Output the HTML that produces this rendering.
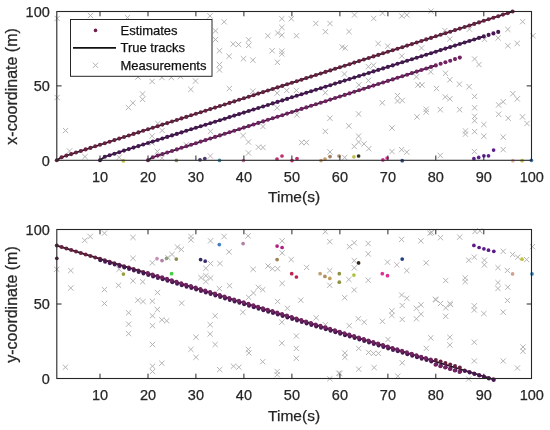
<!DOCTYPE html>
<html><head><meta charset="utf-8"><style>
html,body{margin:0;padding:0;background:#fff;width:550px;height:430px;overflow:hidden}
svg{display:block}
text{font-family:"Liberation Sans",Arial,Helvetica,sans-serif;fill:#262626;stroke:#262626;stroke-width:0.25px}
.tk{font-size:14.5px}
.lb{font-size:15.5px}
.yl{font-size:16px}
.lg{font-size:13px;fill:#111;stroke:#111}
</style></head><body>
<svg width="550" height="430" viewBox="0 0 550 430">
<rect width="550" height="430" fill="#fff"/>
<path stroke="#b0b0b0" stroke-width="0.95" fill="none" d="M54.5 15.8L59.8 21.1M54.5 21.1L59.8 15.8M87.8 12.9L93.2 18.2M87.8 18.2L93.2 12.9M124.8 15.0L130.2 20.2M124.8 20.2L130.2 15.0M54.5 94.8L59.8 100.2M54.5 100.2L59.8 94.8M62.9 127.9L68.2 133.2M62.9 133.2L68.2 127.9M125.8 104.9L131.1 110.2M125.8 110.2L131.1 104.9M130.2 100.3L135.5 105.7M130.2 105.7L135.5 100.3M139.9 91.3L145.2 96.7M139.9 96.7L145.2 91.3M139.9 96.6L145.2 102.0M139.9 102.0L145.2 96.6M82.3 154.0L87.7 159.3M82.3 159.3L87.7 154.0M116.4 154.7L121.8 160.0M116.4 160.0L121.8 154.7M66.8 148.3L72.2 153.7M66.8 153.7L72.2 148.3M135.3 74.3L140.7 79.7M135.3 79.7L140.7 74.3M149.5 78.8L154.8 84.1M149.5 84.1L154.8 78.8M159.3 74.8L164.7 80.2M159.3 80.2L164.7 74.8M168.7 74.8L174.0 80.2M168.7 80.2L174.0 74.8M177.7 73.8L183.0 79.2M177.7 79.2L183.0 73.8M192.9 78.3L198.2 83.7M192.9 83.7L198.2 78.3M188.2 86.8L193.5 92.1M188.2 92.1L193.5 86.8M226.7 85.9L232.0 91.2M226.7 91.2L232.0 85.9M207.3 13.2L212.7 18.6M207.3 18.6L212.7 13.2M221.5 19.2L226.8 24.5M221.5 24.5L226.8 19.2M212.8 28.2L218.2 33.5M212.8 33.5L218.2 28.2M212.8 37.0L218.2 42.2M212.8 42.2L218.2 37.0M230.5 41.4L235.8 46.6M230.5 46.6L235.8 41.4M235.9 41.9L241.2 47.1M235.9 47.1L241.2 41.9M246.0 37.2L251.3 42.5M246.0 42.5L251.3 37.2M246.0 42.8L251.3 48.0M246.0 48.0L251.3 42.8M216.8 48.1L222.2 53.4M216.8 53.4L222.2 48.1M226.4 53.6L231.8 58.9M226.4 58.9L231.8 53.6M216.8 61.9L222.2 67.2M216.8 67.2L222.2 61.9M216.8 67.2L222.2 72.6M216.8 72.6L222.2 67.2M240.8 56.1L246.2 61.4M240.8 61.4L246.2 56.1M250.2 57.5L255.5 62.8M250.2 62.8L255.5 57.5M265.2 33.1L270.5 38.4M265.2 38.4L270.5 33.1M275.1 30.4L280.3 35.6M275.1 35.6L280.3 30.4M279.2 16.1L284.5 21.3M279.2 21.3L284.5 16.1M279.2 24.8L284.5 30.0M279.2 30.0L284.5 24.8M279.2 32.5L284.5 37.8M279.2 37.8L284.5 32.5M288.7 16.1L293.9 21.3M288.7 21.3L293.9 16.1M293.9 33.1L299.1 38.4M293.9 38.4L299.1 33.1M269.5 48.1L274.8 53.4M269.5 53.4L274.8 48.1M279.2 48.6L284.5 53.9M279.2 53.9L284.5 48.6M279.2 51.4L284.5 56.6M279.2 56.6L284.5 51.4M274.8 59.6L280.0 65.0M274.8 65.0L280.0 59.6M313.2 20.9L318.4 26.1M313.2 26.1L318.4 20.9M327.4 20.9L332.6 26.1M327.4 26.1L332.6 20.9M322.8 29.1L328.0 34.4M322.8 34.4L328.0 29.1M339.6 44.4L344.8 49.6M339.6 49.6L344.8 44.4M342.5 45.4L347.8 50.6M342.5 50.6L347.8 45.4M351.9 12.3L357.1 17.6M351.9 17.6L357.1 12.3M371.1 15.8L376.3 21.1M371.1 21.1L376.3 15.8M379.9 10.4L385.1 15.8M379.9 15.8L385.1 10.4M399.2 13.3L404.4 18.6M399.2 18.6L404.4 13.3M404.2 12.3L409.5 17.6M404.2 17.6L409.5 12.3M346.4 29.0L351.6 34.2M346.4 34.2L351.6 29.0M375.5 41.0L380.8 46.2M375.5 46.2L380.8 41.0M385.1 43.5L390.3 48.8M385.1 48.8L390.3 43.5M399.2 53.4L404.4 58.6M399.2 58.6L404.4 53.4M428.4 8.5L433.6 13.8M428.4 13.8L433.6 8.5M442.2 27.9L447.4 33.1M442.2 33.1L447.4 27.9M447.2 36.4L452.5 41.6M447.2 41.6L452.5 36.4M466.9 26.5L472.1 31.8M466.9 31.8L472.1 26.5M418.9 45.4L424.1 50.6M418.9 50.6L424.1 45.4M481.9 36.6L487.1 41.9M481.9 41.9L487.1 36.6M472.0 56.4L477.2 61.6M472.0 61.6L477.2 56.4M476.4 61.9L481.6 67.2M476.4 67.2L481.6 61.9M365.8 64.0L371.0 69.4M365.8 69.4L371.0 64.0M370.9 62.6L376.1 68.0M370.9 68.0L376.1 62.6M341.8 71.3L347.0 76.7M341.8 76.7L347.0 71.3M365.8 77.8L371.0 83.2M365.8 83.2L371.0 77.8M356.2 82.2L361.5 87.6M356.2 87.6L361.5 82.2M413.8 74.2L419.0 79.6M413.8 79.6L419.0 74.2M415.4 82.3L420.6 87.7M415.4 87.7L420.6 82.3M419.4 82.2L424.6 87.6M419.4 87.6L424.6 82.2M394.9 92.9L400.1 98.2M394.9 98.2L400.1 92.9M394.9 98.3L400.1 103.7M394.9 103.7L400.1 98.3M399.6 97.8L404.8 103.1M399.6 103.1L404.8 97.8M379.7 100.1L384.9 105.5M379.7 105.5L384.9 100.1M428.1 69.1L433.3 74.5M428.1 74.5L433.3 69.1M442.9 70.6L448.1 76.0M442.9 76.0L448.1 70.6M447.2 77.1L452.5 82.5M447.2 82.5L452.5 77.1M433.9 85.8L439.1 91.2M433.9 91.2L439.1 85.8M456.8 81.5L462.0 86.9M456.8 86.9L462.0 81.5M466.5 84.0L471.8 89.4M466.5 89.4L471.8 84.0M472.0 93.8L477.2 99.1M472.0 99.1L477.2 93.8M442.7 94.3L447.9 99.7M442.7 99.7L447.9 94.3M447.2 96.1L452.5 101.5M447.2 101.5L452.5 96.1M520.0 19.1L525.2 24.3M520.0 24.3L525.2 19.1M505.2 26.8L510.5 32.0M505.2 32.0L510.5 26.8M530.4 33.1L535.6 38.4M530.4 38.4L535.6 33.1M495.5 35.4L500.8 40.6M495.5 40.6L500.8 35.4M505.2 43.1L510.5 48.4M505.2 48.4L510.5 43.1M514.6 40.8L519.9 46.0M514.6 46.0L519.9 40.8M510.2 91.0L515.5 96.4M510.2 96.4L515.5 91.0M514.6 96.2L519.9 101.6M514.6 101.6L519.9 96.2M496.0 102.2L501.2 107.6M496.0 107.6L501.2 102.2M500.6 99.1L505.8 104.5M500.6 104.5L505.8 99.1M472.0 105.1L477.2 110.5M472.0 110.5L477.2 105.1M472.0 113.6L477.2 119.0M472.0 119.0L477.2 113.6M472.0 118.0L477.2 123.4M472.0 123.4L477.2 118.0M481.2 121.9L486.5 127.2M481.2 127.2L486.5 121.9M472.0 129.0L477.2 134.3M472.0 134.3L477.2 129.0M481.2 133.5L486.5 138.8M481.2 138.8L486.5 133.5M496.0 111.6L501.2 117.0M496.0 117.0L501.2 111.6M505.6 115.5L510.8 120.9M505.6 120.9L510.8 115.5M519.9 114.2L525.1 119.6M519.9 119.6L525.1 114.2M524.4 120.9L529.6 126.2M524.4 126.2L529.6 120.9M500.6 134.4L505.8 139.8M500.6 139.8L505.8 134.4M500.6 147.0L505.8 152.3M500.6 152.3L505.8 147.0M471.8 148.9L477.0 154.2M471.8 154.2L477.0 148.9M155.2 120.9L160.5 126.2M155.2 126.2L160.5 120.9M159.5 127.8L164.8 133.1M159.5 133.1L164.8 127.8M149.3 133.5L154.7 138.8M149.3 138.8L154.7 133.5M149.3 140.2L154.7 145.6M149.3 145.6L154.7 140.2M154.7 148.8L160.0 154.1M154.7 154.1L160.0 148.8M207.8 128.7L213.2 134.0M207.8 134.0L213.2 128.7M183.7 142.2L189.0 147.5M183.7 147.5L189.0 142.2M250.2 88.5L255.5 93.9M250.2 93.9L255.5 88.5M274.5 90.4L279.8 95.8M274.5 95.8L279.8 90.4M284.1 87.8L289.3 93.1M284.1 93.1L289.3 87.8M293.8 87.8L299.0 93.1M293.8 93.1L299.0 87.8M322.7 90.0L327.9 95.4M322.7 95.4L327.9 90.0M274.5 105.1L279.8 110.5M274.5 110.5L279.8 105.1M294.2 112.2L299.4 117.6M294.2 117.6L299.4 112.2M327.4 115.5L332.6 120.9M327.4 120.9L332.6 115.5M260.4 123.8L265.6 129.2M260.4 129.2L265.6 123.8M240.4 132.9L245.8 138.2M240.4 138.2L245.8 132.9M245.8 139.3L251.2 144.7M245.8 144.7L251.2 139.3M255.8 144.5L261.1 149.8M255.8 149.8L261.1 144.5M260.4 144.8L265.6 150.2M260.4 150.2L265.6 144.8M245.8 150.3L251.2 155.7M245.8 155.7L251.2 150.3M299.0 139.8L304.2 145.2M299.0 145.2L304.2 139.8M303.8 139.8L309.0 145.2M303.8 145.2L309.0 139.8M322.7 128.7L327.9 134.0M322.7 134.0L327.9 128.7M327.4 149.3L332.6 154.7M327.4 154.7L332.6 149.3M356.0 111.3L361.2 116.7M356.0 116.7L361.2 111.3M346.2 123.2L351.5 128.6M346.2 128.6L351.5 123.2M389.4 125.2L394.6 130.6M389.4 130.6L394.6 125.2M356.0 133.5L361.2 138.8M356.0 138.8L361.2 133.5M356.0 139.3L361.2 144.7M356.0 144.7L361.2 139.3M351.7 143.8L356.9 149.1M351.7 149.1L356.9 143.8M361.4 141.2L366.6 146.6M361.4 146.6L366.6 141.2M366.2 146.0L371.4 151.3M366.2 151.3L371.4 146.0M389.4 148.9L394.6 154.2M389.4 154.2L394.6 148.9M399.0 147.0L404.2 152.3M399.0 152.3L404.2 147.0M404.2 149.5L409.4 154.8M404.2 154.8L409.4 149.5M342.1 154.8L347.3 160.1M342.1 160.1L347.3 154.8M423.5 106.6L428.8 112.0M423.5 112.0L428.8 106.6M423.5 109.3L428.8 114.7M423.5 114.7L428.8 109.3M414.4 114.2L419.6 119.6M414.4 119.6L419.6 114.2M437.7 107.0L442.9 112.4M437.7 112.4L442.9 107.0M457.0 107.0L462.2 112.4M457.0 112.4L462.2 107.0M462.8 128.3L468.0 133.7M462.8 133.7L468.0 128.3M462.8 131.5L468.0 136.8M462.8 136.8L468.0 131.5M437.7 152.8L442.9 158.2M437.7 158.2L442.9 152.8M82.0 237.7L87.4 243.0M82.0 243.0L87.4 237.7M87.5 233.8L92.9 239.2M87.5 239.2L92.9 233.8M101.8 230.5L107.1 235.8M101.8 235.8L107.1 230.5M130.3 234.8L135.7 240.1M130.3 240.1L135.7 234.8M54.1 266.7L59.4 271.9M54.1 271.9L59.4 266.7M68.1 268.0L73.5 273.2M68.1 273.2L73.5 268.0M130.3 255.7L135.7 260.9M130.3 260.9L135.7 255.7M116.4 266.7L121.8 271.9M116.4 271.9L121.8 266.7M130.3 278.2L135.7 283.5M130.3 283.5L135.7 278.2M140.0 279.2L145.3 284.4M140.0 284.4L145.3 279.2M68.1 285.4L73.5 290.6M68.1 290.6L73.5 285.4M101.8 287.0L107.1 292.2M101.8 292.2L107.1 287.0M115.8 282.7L121.2 287.9M115.8 287.9L121.2 282.7M101.8 300.9L107.1 306.1M101.8 306.1L107.1 300.9M135.2 297.6L140.5 302.8M135.2 302.8L140.5 297.6M140.3 298.9L145.7 304.1M140.3 304.1L145.7 298.9M188.3 233.8L193.7 239.2M188.3 239.2L193.7 233.8M188.3 237.2L193.7 242.5M188.3 242.5L193.7 237.2M207.9 238.2L213.2 243.6M207.9 243.6L213.2 238.2M221.5 233.8L226.8 239.2M221.5 239.2L226.8 233.8M226.3 249.2L231.7 254.6M226.3 254.6L231.7 249.2M174.8 244.4L180.1 249.8M174.8 249.8L180.1 244.4M178.7 246.8L184.0 252.1M178.7 252.1L184.0 246.8M169.3 251.8L174.7 257.1M169.3 257.1L174.7 251.8M165.2 255.0L170.5 260.3M165.2 260.3L170.5 255.0M149.7 260.2L155.0 265.5M149.7 265.5L155.0 260.2M207.9 260.9L213.2 266.1M207.9 266.1L213.2 260.9M217.2 260.9L222.6 266.1M217.2 266.1L222.6 260.9M203.2 265.7L208.5 270.9M203.2 270.9L208.5 265.7M198.3 275.0L203.7 280.2M198.3 280.2L203.7 275.0M203.2 273.1L208.5 278.3M203.2 278.3L208.5 273.1M207.9 275.4L213.2 280.6M207.9 280.6L213.2 275.4M203.2 278.9L208.5 284.1M203.2 284.1L208.5 278.9M216.7 286.0L222.0 291.2M216.7 291.2L222.0 286.0M226.9 283.1L232.2 288.3M226.9 288.3L232.2 283.1M154.8 289.9L160.2 295.1M154.8 295.1L160.2 289.9M149.7 298.6L155.0 303.8M149.7 303.8L155.0 298.6M179.0 300.5L184.3 305.8M179.0 305.8L184.3 300.5M245.4 233.2L250.8 238.6M245.4 238.6L250.8 233.2M279.5 238.2L284.8 243.6M279.5 243.6L284.8 238.2M279.5 250.2L284.8 255.6M279.5 255.6L284.8 250.2M288.6 257.0L293.8 262.2M288.6 262.2L293.8 257.0M265.4 263.4L270.6 268.6M265.4 268.6L270.6 263.4M269.8 266.1L275.0 271.3M269.8 271.3L275.0 266.1M275.0 266.1L280.2 271.3M275.0 271.3L280.2 266.1M250.4 266.7L255.8 271.9M250.4 271.9L255.8 266.7M304.0 264.8L309.2 270.0M304.0 270.0L309.2 264.8M322.7 229.0L327.9 234.3M322.7 234.3L327.9 229.0M327.2 239.0L332.4 244.3M327.2 244.3L332.4 239.0M327.2 268.0L332.4 273.2M327.2 273.2L332.4 268.0M327.2 282.7L332.4 287.9M327.2 287.9L332.4 282.7M279.5 280.8L284.8 286.0M279.5 286.0L284.8 280.8M255.7 284.7L260.9 289.9M255.7 289.9L260.9 284.7M260.2 287.0L265.4 292.2M260.2 292.2L265.4 287.0M250.8 290.4L256.1 295.6M250.8 295.6L256.1 290.4M246.0 294.7L251.3 299.9M246.0 299.9L251.3 294.7M275.0 298.9L280.2 304.1M275.0 304.1L280.2 298.9M298.2 297.6L303.4 302.8M298.2 302.8L303.4 297.6M346.9 244.0L352.1 249.3M346.9 249.3L352.1 244.0M351.7 240.2L356.9 245.5M351.7 245.5L356.9 240.2M365.6 240.9L370.8 246.2M365.6 246.2L370.8 240.9M365.6 251.2L370.8 256.6M365.6 256.6L370.8 251.2M351.7 258.0L356.9 263.2M351.7 263.2L356.9 258.0M351.7 265.2L356.9 270.5M351.7 270.5L356.9 265.2M346.2 276.9L351.5 282.1M346.2 282.1L351.5 276.9M365.6 277.7L370.8 282.9M365.6 282.9L370.8 277.7M351.7 287.4L356.9 292.6M351.7 292.6L356.9 287.4M342.1 295.1L347.3 300.3M342.1 300.3L347.3 295.1M399.0 236.8L404.2 242.1M399.0 242.1L404.2 236.8M418.2 238.2L423.5 243.6M418.2 243.6L423.5 238.2M427.4 230.5L432.6 235.8M427.4 235.8L432.6 230.5M384.9 259.6L390.1 264.8M384.9 264.8L390.1 259.6M404.2 268.0L409.4 273.2M404.2 273.2L409.4 268.0M423.5 260.2L428.8 265.5M423.5 265.5L428.8 260.2M399.0 292.4L404.2 297.6M399.0 297.6L404.2 292.4M404.2 295.7L409.4 300.9M404.2 300.9L409.4 295.7M432.8 296.6L438.0 301.8M432.8 301.8L438.0 296.6M429.1 229.8L434.3 235.2M429.1 235.2L434.3 229.8M437.9 235.0L443.1 240.3M437.9 240.3L443.1 235.0M457.1 234.4L462.3 239.8M457.1 239.8L462.3 234.4M472.4 228.8L477.6 234.1M472.4 234.1L477.6 228.8M477.2 228.2L482.4 233.5M477.2 233.5L482.4 228.2M500.6 248.7L505.8 254.0M500.6 254.0L505.8 248.7M510.0 251.8L515.2 257.1M510.0 257.1L515.2 251.8M515.1 254.5L520.4 259.8M515.1 259.8L520.4 254.5M524.0 257.0L529.2 262.2M524.0 262.2L529.2 257.0M529.8 244.0L535.0 249.3M529.8 249.3L535.0 244.0M466.1 257.5L471.3 262.8M466.1 262.8L471.3 257.5M471.7 254.5L476.9 259.8M471.7 259.8L476.9 254.5M481.8 257.5L487.0 262.8M481.8 262.8L487.0 257.5M481.8 262.2L487.0 267.5M481.8 267.5L487.0 262.2M495.4 265.0L500.6 270.2M495.4 270.2L500.6 265.0M504.8 267.9L510.0 273.1M504.8 273.1L510.0 267.9M443.1 277.9L448.3 283.1M443.1 283.1L448.3 277.9M462.5 275.4L467.8 280.6M462.5 280.6L467.8 275.4M462.5 279.0L467.8 284.2M462.5 284.2L467.8 279.0M495.4 280.0L500.6 285.2M495.4 285.2L500.6 280.0M495.4 285.9L500.6 291.1M495.4 291.1L500.6 285.9M505.2 284.6L510.4 289.8M505.2 289.8L510.4 284.6M433.2 297.2L438.5 302.4M433.2 302.4L438.5 297.2M437.9 300.9L443.1 306.1M437.9 306.1L443.1 300.9M447.2 300.9L452.5 306.1M447.2 306.1L452.5 300.9M504.8 297.8L510.0 303.0M504.8 303.0L510.0 297.8M126.0 310.2L131.3 315.4M126.0 315.4L131.3 310.2M126.0 321.5L131.3 326.8M126.0 326.8L131.3 321.5M126.0 331.0L131.3 336.2M126.0 336.2L131.3 331.0M62.8 364.6L68.1 369.8M62.8 369.8L68.1 364.6M154.7 306.9L160.0 312.1M154.7 312.1L160.0 306.9M149.8 313.2L155.2 318.4M149.8 318.4L155.2 313.2M159.2 317.2L164.5 322.4M159.2 322.4L164.5 317.2M164.0 318.2L169.3 323.4M164.0 323.4L169.3 318.2M149.8 323.1L155.2 328.3M149.8 328.3L155.2 323.1M149.8 341.9L155.2 347.1M149.8 347.1L155.2 341.9M193.3 334.6L198.7 339.8M193.3 339.8L198.7 334.6M188.2 346.8L193.5 352.0M188.2 352.0L193.5 346.8M193.3 354.7L198.7 359.9M193.3 359.9L198.7 354.7M149.8 363.6L155.2 368.8M149.8 368.8L155.2 363.6M149.8 368.9L155.2 374.1M149.8 374.1L155.2 368.9M159.2 360.6L164.5 365.8M159.2 365.8L164.5 360.6M212.5 313.2L217.8 318.4M212.5 318.4L217.8 313.2M207.5 322.1L212.8 327.3M207.5 327.3L212.8 322.1M207.5 331.4L212.8 336.6M207.5 336.6L212.8 331.4M212.5 341.9L217.8 347.1M212.5 347.1L217.8 341.9M217.0 367.0L222.3 372.2M217.0 372.2L222.3 367.0M230.8 363.6L236.2 368.8M230.8 368.8L236.2 363.6M236.2 364.6L241.6 369.8M236.2 369.8L241.6 364.6M240.2 309.7L245.5 314.9M240.2 314.9L245.5 309.7M284.8 305.7L290.0 310.9M284.8 310.9L290.0 305.7M279.2 319.5L284.5 324.8M279.2 324.8L284.5 319.5M313.5 315.2L318.8 320.4M313.5 320.4L318.8 315.2M322.8 322.1L328.0 327.3M322.8 327.3L328.0 322.1M293.7 333.4L298.9 338.6M293.7 338.6L298.9 333.4M279.2 340.5L284.5 345.8M279.2 345.8L284.5 340.5M293.7 345.8L298.9 351.0M293.7 351.0L298.9 345.8M293.7 355.7L298.9 360.9M293.7 360.9L298.9 355.7M245.7 346.8L251.0 352.0M245.7 352.0L251.0 346.8M246.2 350.4L251.6 355.6M246.2 355.6L251.6 350.4M260.1 359.1L265.3 364.3M260.1 364.3L265.3 359.1M274.6 368.9L279.8 374.1M274.6 374.1L279.8 368.9M274.6 372.1L279.8 377.3M274.6 377.3L279.8 372.1M327.2 376.1L332.5 381.3M327.2 381.3L332.5 376.1M336.2 370.5L341.4 375.8M336.2 375.8L341.4 370.5M399.6 302.9L404.8 308.1M399.6 308.1L404.8 302.9M389.2 308.2L394.5 313.5M389.2 313.5L394.5 308.2M389.2 312.8L394.5 318.0M389.2 318.0L394.5 312.8M399.6 316.8L404.8 322.0M399.6 322.0L404.8 316.8M413.8 305.7L419.0 310.9M413.8 310.9L419.0 305.7M418.4 302.2L423.6 307.5M418.4 307.5L423.6 302.2M418.4 311.6L423.6 316.8M418.4 316.8L423.6 311.6M413.8 316.2L419.0 321.4M413.8 321.4L419.0 316.2M379.8 318.7L385.0 323.9M379.8 323.9L385.0 318.7M355.7 316.2L360.9 321.4M355.7 321.4L360.9 316.2M361.6 319.5L366.8 324.8M361.6 324.8L366.8 319.5M346.6 323.1L351.8 328.3M346.6 328.3L351.8 323.1M385.4 336.9L390.6 342.1M385.4 342.1L390.6 336.9M428.2 335.2L433.4 340.5M428.2 340.5L433.4 335.2M423.7 345.8L428.9 351.0M423.7 351.0L428.9 345.8M356.1 345.8L361.3 351.0M356.1 351.0L361.3 345.8M342.2 350.4L347.5 355.6M342.2 355.6L347.5 350.4M342.2 354.7L347.5 359.9M342.2 359.9L347.5 354.7M366.0 349.8L371.2 355.0M366.0 355.0L371.2 349.8M370.9 350.8L376.1 356.0M370.9 356.0L376.1 350.8M375.9 350.8L381.1 356.0M375.9 356.0L381.1 350.8M399.6 360.2L404.8 365.4M399.6 365.4L404.8 360.2M371.5 365.0L376.8 370.2M371.5 370.2L376.8 365.0M356.1 366.6L361.3 371.8M356.1 371.8L361.3 366.6M337.2 370.9L342.5 376.1M337.2 376.1L342.5 370.9M395.2 373.5L400.4 378.8M395.2 378.8L400.4 373.5M443.1 305.2L448.3 310.5M443.1 310.5L448.3 305.2M447.9 302.0L453.1 307.2M447.9 307.2L453.1 302.0M443.1 313.7L448.3 318.9M443.1 318.9L448.3 313.7M471.7 303.2L476.9 308.5M471.7 308.5L476.9 303.2M471.7 307.4L476.9 312.6M471.7 312.6L476.9 307.4M481.2 311.0L486.5 316.2M481.2 316.2L486.5 311.0M500.6 309.5L505.8 314.8M500.6 314.8L505.8 309.5M447.2 334.6L452.5 339.8M447.2 339.8L452.5 334.6M447.2 342.4L452.5 347.6M447.2 347.6L452.5 342.4M471.7 339.6L476.9 344.8M471.7 344.8L476.9 339.6M520.4 344.4L525.6 349.6M520.4 349.6L525.6 344.4M520.4 348.6L525.6 353.8M520.4 353.8L525.6 348.6M471.7 358.4L476.9 363.6M471.7 363.6L476.9 358.4M500.6 358.4L505.8 363.6M500.6 363.6L505.8 358.4M514.8 365.4L520.0 370.6M514.8 370.6L520.0 365.4M466.1 376.4L471.3 381.6M466.1 381.6L471.3 376.4"/><path stroke="#c4b0bc" stroke-width="0.95" fill="none" d="M159.3 155.5L164.7 160.8M159.3 160.8L164.7 155.5M207.7 153.3L213.0 158.7M207.7 158.7L213.0 153.3M394.2 262.2L399.4 267.5M394.2 267.5L399.4 262.2"/><polyline fill="none" stroke="#1c1020" stroke-width="1.8" points="56.8,160.3 61.6,157.2 512.6,11.5"/><polyline fill="none" stroke="#1c1020" stroke-width="1.8" points="100.0,160.3 104.8,156.7 483.8,36.4"/><polyline fill="none" stroke="#1c1020" stroke-width="1.8" points="148.0,160.3 152.8,157.2 435.8,65.4"/><circle cx="56.8" cy="160.3" r="2.05" fill="#65213f"/><circle cx="61.6" cy="157.2" r="2.05" fill="#65213f"/><circle cx="66.4" cy="155.6" r="2.05" fill="#65213f"/><circle cx="71.2" cy="154.1" r="2.05" fill="#65213f"/><circle cx="76.0" cy="152.5" r="2.05" fill="#65213f"/><circle cx="80.8" cy="151.0" r="2.05" fill="#65213f"/><circle cx="85.6" cy="149.4" r="2.05" fill="#65213f"/><circle cx="90.4" cy="147.9" r="2.05" fill="#65213f"/><circle cx="95.2" cy="146.3" r="2.05" fill="#65213f"/><circle cx="100.0" cy="144.8" r="2.05" fill="#65213f"/><circle cx="104.8" cy="143.2" r="2.05" fill="#65213f"/><circle cx="109.6" cy="141.7" r="2.05" fill="#65213f"/><circle cx="114.4" cy="140.1" r="2.05" fill="#65213f"/><circle cx="119.2" cy="138.6" r="2.05" fill="#65213f"/><circle cx="124.0" cy="137.0" r="2.05" fill="#65213f"/><circle cx="128.8" cy="135.5" r="2.05" fill="#65213f"/><circle cx="133.6" cy="133.9" r="2.05" fill="#65213f"/><circle cx="138.4" cy="132.4" r="2.05" fill="#65213f"/><circle cx="143.2" cy="130.8" r="2.05" fill="#65213f"/><circle cx="148.0" cy="129.3" r="2.05" fill="#65213f"/><circle cx="152.8" cy="127.7" r="2.05" fill="#65213f"/><circle cx="157.6" cy="126.2" r="2.05" fill="#65213f"/><circle cx="162.4" cy="124.6" r="2.05" fill="#65213f"/><circle cx="167.2" cy="123.1" r="2.05" fill="#65213f"/><circle cx="172.0" cy="121.5" r="2.05" fill="#65213f"/><circle cx="176.8" cy="120.0" r="2.05" fill="#65213f"/><circle cx="181.5" cy="118.4" r="2.05" fill="#65213f"/><circle cx="186.3" cy="116.9" r="2.05" fill="#65213f"/><circle cx="191.1" cy="115.3" r="2.05" fill="#65213f"/><circle cx="195.9" cy="113.8" r="2.05" fill="#65213f"/><circle cx="200.7" cy="112.2" r="2.05" fill="#65213f"/><circle cx="205.5" cy="110.7" r="2.05" fill="#65213f"/><circle cx="210.3" cy="109.1" r="2.05" fill="#65213f"/><circle cx="215.1" cy="107.6" r="2.05" fill="#65213f"/><circle cx="219.9" cy="106.0" r="2.05" fill="#65213f"/><circle cx="224.7" cy="104.5" r="2.05" fill="#65213f"/><circle cx="229.5" cy="102.9" r="2.05" fill="#65213f"/><circle cx="234.3" cy="101.4" r="2.05" fill="#65213f"/><circle cx="239.1" cy="99.8" r="2.05" fill="#65213f"/><circle cx="243.9" cy="98.3" r="2.05" fill="#65213f"/><circle cx="248.7" cy="96.7" r="2.05" fill="#65213f"/><circle cx="253.5" cy="95.2" r="2.05" fill="#65213f"/><circle cx="258.3" cy="93.6" r="2.05" fill="#65213f"/><circle cx="263.1" cy="92.1" r="2.05" fill="#65213f"/><circle cx="267.9" cy="90.5" r="2.05" fill="#65213f"/><circle cx="272.7" cy="89.0" r="2.05" fill="#65213f"/><circle cx="277.5" cy="87.4" r="2.05" fill="#65213f"/><circle cx="282.3" cy="85.9" r="2.05" fill="#65213f"/><circle cx="287.1" cy="84.3" r="2.05" fill="#65213f"/><circle cx="291.9" cy="82.8" r="2.05" fill="#65213f"/><circle cx="296.7" cy="81.2" r="2.05" fill="#65213f"/><circle cx="301.5" cy="79.7" r="2.05" fill="#65213f"/><circle cx="306.3" cy="78.1" r="2.05" fill="#65213f"/><circle cx="311.1" cy="76.6" r="2.05" fill="#65213f"/><circle cx="315.9" cy="75.0" r="2.05" fill="#65213f"/><circle cx="320.7" cy="73.5" r="2.05" fill="#65213f"/><circle cx="325.5" cy="71.9" r="2.05" fill="#65213f"/><circle cx="330.3" cy="70.4" r="2.05" fill="#65213f"/><circle cx="335.1" cy="68.8" r="2.05" fill="#65213f"/><circle cx="339.9" cy="67.3" r="2.05" fill="#65213f"/><circle cx="344.7" cy="65.7" r="2.05" fill="#65213f"/><circle cx="349.5" cy="64.2" r="2.05" fill="#65213f"/><circle cx="354.3" cy="62.6" r="2.05" fill="#65213f"/><circle cx="359.1" cy="61.1" r="2.05" fill="#65213f"/><circle cx="363.9" cy="59.5" r="2.05" fill="#65213f"/><circle cx="368.7" cy="58.0" r="2.05" fill="#65213f"/><circle cx="373.5" cy="56.4" r="2.05" fill="#65213f"/><circle cx="378.3" cy="54.9" r="2.05" fill="#65213f"/><circle cx="383.1" cy="53.3" r="2.05" fill="#65213f"/><circle cx="387.9" cy="51.8" r="2.05" fill="#65213f"/><circle cx="392.7" cy="50.3" r="2.05" fill="#65213f"/><circle cx="397.5" cy="48.7" r="2.05" fill="#65213f"/><circle cx="402.3" cy="47.2" r="2.05" fill="#65213f"/><circle cx="407.1" cy="45.6" r="2.05" fill="#65213f"/><circle cx="411.9" cy="44.1" r="2.05" fill="#65213f"/><circle cx="416.7" cy="42.5" r="2.05" fill="#65213f"/><circle cx="421.4" cy="41.0" r="2.05" fill="#65213f"/><circle cx="426.2" cy="39.4" r="2.05" fill="#65213f"/><circle cx="431.0" cy="37.9" r="2.05" fill="#65213f"/><circle cx="435.8" cy="36.3" r="2.05" fill="#65213f"/><circle cx="440.6" cy="34.8" r="2.05" fill="#65213f"/><circle cx="445.4" cy="33.2" r="2.05" fill="#65213f"/><circle cx="450.2" cy="31.7" r="2.05" fill="#65213f"/><circle cx="455.0" cy="30.1" r="2.05" fill="#65213f"/><circle cx="459.8" cy="28.6" r="2.05" fill="#65213f"/><circle cx="464.6" cy="27.0" r="2.05" fill="#65213f"/><circle cx="469.4" cy="25.5" r="2.05" fill="#65213f"/><circle cx="474.2" cy="23.9" r="2.05" fill="#65213f"/><circle cx="479.0" cy="22.4" r="2.05" fill="#65213f"/><circle cx="483.8" cy="20.8" r="2.05" fill="#65213f"/><circle cx="488.6" cy="19.3" r="2.05" fill="#65213f"/><circle cx="493.4" cy="17.7" r="2.05" fill="#65213f"/><circle cx="498.2" cy="16.2" r="2.05" fill="#65213f"/><circle cx="503.0" cy="14.6" r="2.05" fill="#65213f"/><circle cx="507.8" cy="13.1" r="2.05" fill="#65213f"/><circle cx="512.6" cy="11.5" r="2.05" fill="#65213f"/><circle cx="100.0" cy="160.3" r="2.05" fill="#461852"/><circle cx="104.8" cy="156.7" r="2.05" fill="#461852"/><circle cx="109.6" cy="155.2" r="2.05" fill="#461852"/><circle cx="114.4" cy="153.7" r="2.05" fill="#461852"/><circle cx="119.2" cy="152.2" r="2.05" fill="#461852"/><circle cx="124.0" cy="150.6" r="2.05" fill="#461852"/><circle cx="128.8" cy="149.1" r="2.05" fill="#461852"/><circle cx="133.6" cy="147.6" r="2.05" fill="#461852"/><circle cx="138.4" cy="146.1" r="2.05" fill="#461852"/><circle cx="143.2" cy="144.5" r="2.05" fill="#461852"/><circle cx="148.0" cy="143.0" r="2.05" fill="#461852"/><circle cx="152.8" cy="141.5" r="2.05" fill="#461852"/><circle cx="157.6" cy="140.0" r="2.05" fill="#461852"/><circle cx="162.4" cy="138.5" r="2.05" fill="#461852"/><circle cx="167.2" cy="136.9" r="2.05" fill="#461852"/><circle cx="172.0" cy="135.4" r="2.05" fill="#461852"/><circle cx="176.8" cy="133.9" r="2.05" fill="#461852"/><circle cx="181.5" cy="132.4" r="2.05" fill="#461852"/><circle cx="186.3" cy="130.8" r="2.05" fill="#461852"/><circle cx="191.1" cy="129.3" r="2.05" fill="#461852"/><circle cx="195.9" cy="127.8" r="2.05" fill="#461852"/><circle cx="200.7" cy="126.3" r="2.05" fill="#461852"/><circle cx="205.5" cy="124.8" r="2.05" fill="#461852"/><circle cx="210.3" cy="123.2" r="2.05" fill="#461852"/><circle cx="215.1" cy="121.7" r="2.05" fill="#461852"/><circle cx="219.9" cy="120.2" r="2.05" fill="#461852"/><circle cx="224.7" cy="118.7" r="2.05" fill="#461852"/><circle cx="229.5" cy="117.1" r="2.05" fill="#461852"/><circle cx="234.3" cy="115.6" r="2.05" fill="#461852"/><circle cx="239.1" cy="114.1" r="2.05" fill="#461852"/><circle cx="243.9" cy="112.6" r="2.05" fill="#461852"/><circle cx="248.7" cy="111.0" r="2.05" fill="#461852"/><circle cx="253.5" cy="109.5" r="2.05" fill="#461852"/><circle cx="258.3" cy="108.0" r="2.05" fill="#461852"/><circle cx="263.1" cy="106.5" r="2.05" fill="#461852"/><circle cx="267.9" cy="105.0" r="2.05" fill="#461852"/><circle cx="272.7" cy="103.4" r="2.05" fill="#461852"/><circle cx="277.5" cy="101.9" r="2.05" fill="#461852"/><circle cx="282.3" cy="100.4" r="2.05" fill="#461852"/><circle cx="287.1" cy="98.9" r="2.05" fill="#461852"/><circle cx="291.9" cy="97.3" r="2.05" fill="#461852"/><circle cx="296.7" cy="95.8" r="2.05" fill="#461852"/><circle cx="301.5" cy="94.3" r="2.05" fill="#461852"/><circle cx="306.3" cy="92.8" r="2.05" fill="#461852"/><circle cx="311.1" cy="91.2" r="2.05" fill="#461852"/><circle cx="315.9" cy="89.7" r="2.05" fill="#461852"/><circle cx="320.7" cy="88.2" r="2.05" fill="#461852"/><circle cx="325.5" cy="86.7" r="2.05" fill="#461852"/><circle cx="330.3" cy="85.2" r="2.05" fill="#461852"/><circle cx="335.1" cy="83.6" r="2.05" fill="#461852"/><circle cx="339.9" cy="82.1" r="2.05" fill="#461852"/><circle cx="344.7" cy="80.6" r="2.05" fill="#461852"/><circle cx="349.5" cy="79.1" r="2.05" fill="#461852"/><circle cx="354.3" cy="77.5" r="2.05" fill="#461852"/><circle cx="359.1" cy="76.0" r="2.05" fill="#461852"/><circle cx="363.9" cy="74.5" r="2.05" fill="#461852"/><circle cx="368.7" cy="73.0" r="2.05" fill="#461852"/><circle cx="373.5" cy="71.4" r="2.05" fill="#461852"/><circle cx="378.3" cy="69.9" r="2.05" fill="#461852"/><circle cx="383.1" cy="68.4" r="2.05" fill="#461852"/><circle cx="387.9" cy="66.9" r="2.05" fill="#461852"/><circle cx="392.7" cy="65.4" r="2.05" fill="#461852"/><circle cx="397.5" cy="63.8" r="2.05" fill="#461852"/><circle cx="402.3" cy="62.3" r="2.05" fill="#461852"/><circle cx="407.1" cy="60.8" r="2.05" fill="#461852"/><circle cx="411.9" cy="59.3" r="2.05" fill="#461852"/><circle cx="416.7" cy="57.7" r="2.05" fill="#461852"/><circle cx="421.4" cy="56.2" r="2.05" fill="#461852"/><circle cx="426.2" cy="54.7" r="2.05" fill="#461852"/><circle cx="431.0" cy="53.2" r="2.05" fill="#461852"/><circle cx="435.8" cy="51.7" r="2.05" fill="#461852"/><circle cx="440.6" cy="50.1" r="2.05" fill="#461852"/><circle cx="445.4" cy="48.6" r="2.05" fill="#461852"/><circle cx="450.2" cy="47.1" r="2.05" fill="#461852"/><circle cx="455.0" cy="45.6" r="2.05" fill="#461852"/><circle cx="459.8" cy="44.0" r="2.05" fill="#461852"/><circle cx="464.6" cy="42.5" r="2.05" fill="#461852"/><circle cx="469.4" cy="41.0" r="2.05" fill="#461852"/><circle cx="474.2" cy="39.5" r="2.05" fill="#461852"/><circle cx="479.0" cy="37.9" r="2.05" fill="#461852"/><circle cx="483.8" cy="36.4" r="2.05" fill="#461852"/><circle cx="488.6" cy="34.9" r="2.05" fill="#461852"/><circle cx="493.4" cy="33.4" r="2.05" fill="#461852"/><circle cx="498.2" cy="31.9" r="2.05" fill="#461852"/><circle cx="148.0" cy="160.3" r="2.05" fill="#702360"/><circle cx="152.8" cy="157.2" r="2.05" fill="#702360"/><circle cx="157.6" cy="155.6" r="2.05" fill="#702360"/><circle cx="162.4" cy="154.1" r="2.05" fill="#702360"/><circle cx="167.2" cy="152.5" r="2.05" fill="#702360"/><circle cx="172.0" cy="151.0" r="2.05" fill="#702360"/><circle cx="176.8" cy="149.4" r="2.05" fill="#702360"/><circle cx="181.5" cy="147.8" r="2.05" fill="#702360"/><circle cx="186.3" cy="146.3" r="2.05" fill="#702360"/><circle cx="191.1" cy="144.7" r="2.05" fill="#702360"/><circle cx="195.9" cy="143.2" r="2.05" fill="#702360"/><circle cx="200.7" cy="141.6" r="2.05" fill="#702360"/><circle cx="205.5" cy="140.1" r="2.05" fill="#702360"/><circle cx="210.3" cy="138.5" r="2.05" fill="#702360"/><circle cx="215.1" cy="136.9" r="2.05" fill="#702360"/><circle cx="219.9" cy="135.4" r="2.05" fill="#702360"/><circle cx="224.7" cy="133.8" r="2.05" fill="#702360"/><circle cx="229.5" cy="132.3" r="2.05" fill="#702360"/><circle cx="234.3" cy="130.7" r="2.05" fill="#702360"/><circle cx="239.1" cy="129.2" r="2.05" fill="#702360"/><circle cx="243.9" cy="127.6" r="2.05" fill="#702360"/><circle cx="248.7" cy="126.1" r="2.05" fill="#702360"/><circle cx="253.5" cy="124.5" r="2.05" fill="#702360"/><circle cx="258.3" cy="122.9" r="2.05" fill="#702360"/><circle cx="263.1" cy="121.4" r="2.05" fill="#702360"/><circle cx="267.9" cy="119.8" r="2.05" fill="#702360"/><circle cx="272.7" cy="118.3" r="2.05" fill="#702360"/><circle cx="277.5" cy="116.7" r="2.05" fill="#702360"/><circle cx="282.3" cy="115.2" r="2.05" fill="#702360"/><circle cx="287.1" cy="113.6" r="2.05" fill="#702360"/><circle cx="291.9" cy="112.0" r="2.05" fill="#702360"/><circle cx="296.7" cy="110.5" r="2.05" fill="#702360"/><circle cx="301.5" cy="108.9" r="2.05" fill="#702360"/><circle cx="306.3" cy="107.4" r="2.05" fill="#702360"/><circle cx="311.1" cy="105.8" r="2.05" fill="#702360"/><circle cx="315.9" cy="104.3" r="2.05" fill="#702360"/><circle cx="320.7" cy="102.7" r="2.05" fill="#702360"/><circle cx="325.5" cy="101.2" r="2.05" fill="#702360"/><circle cx="330.3" cy="99.6" r="2.05" fill="#702360"/><circle cx="335.1" cy="98.0" r="2.05" fill="#702360"/><circle cx="339.9" cy="96.5" r="2.05" fill="#702360"/><circle cx="344.7" cy="94.9" r="2.05" fill="#702360"/><circle cx="349.5" cy="93.4" r="2.05" fill="#702360"/><circle cx="354.3" cy="91.8" r="2.05" fill="#702360"/><circle cx="359.1" cy="90.3" r="2.05" fill="#702360"/><circle cx="363.9" cy="88.7" r="2.05" fill="#702360"/><circle cx="368.7" cy="87.1" r="2.05" fill="#702360"/><circle cx="373.5" cy="85.6" r="2.05" fill="#702360"/><circle cx="378.3" cy="84.0" r="2.05" fill="#702360"/><circle cx="383.1" cy="82.5" r="2.05" fill="#702360"/><circle cx="387.9" cy="80.9" r="2.05" fill="#702360"/><circle cx="392.7" cy="79.4" r="2.05" fill="#702360"/><circle cx="397.5" cy="77.8" r="2.05" fill="#702360"/><circle cx="402.3" cy="76.2" r="2.05" fill="#702360"/><circle cx="407.1" cy="74.7" r="2.05" fill="#702360"/><circle cx="411.9" cy="73.1" r="2.05" fill="#702360"/><circle cx="416.7" cy="71.6" r="2.05" fill="#702360"/><circle cx="421.4" cy="70.0" r="2.05" fill="#702360"/><circle cx="426.2" cy="68.5" r="2.05" fill="#702360"/><circle cx="431.0" cy="66.9" r="2.05" fill="#702360"/><circle cx="435.8" cy="65.4" r="2.05" fill="#702360"/><circle cx="440.6" cy="63.8" r="2.05" fill="#702360"/><circle cx="445.4" cy="62.2" r="2.05" fill="#702360"/><circle cx="450.2" cy="60.7" r="2.05" fill="#702360"/><circle cx="455.0" cy="59.1" r="2.05" fill="#702360"/><circle cx="459.8" cy="57.6" r="2.05" fill="#702360"/><line x1="56.8" y1="245.6" x2="494.0" y2="379.5" stroke="#1c1020" stroke-width="1.8"/><circle cx="56.8" cy="245.6" r="2.0" fill="#65213f"/><circle cx="61.6" cy="247.1" r="2.0" fill="#65213f"/><circle cx="66.4" cy="248.5" r="2.0" fill="#65213f"/><circle cx="71.2" cy="250.0" r="2.0" fill="#65213f"/><circle cx="76.0" cy="251.5" r="2.0" fill="#65213f"/><circle cx="80.8" cy="252.9" r="2.0" fill="#65213f"/><circle cx="85.6" cy="254.4" r="2.0" fill="#65213f"/><circle cx="90.4" cy="255.9" r="2.0" fill="#65213f"/><circle cx="95.2" cy="257.4" r="2.0" fill="#65213f"/><circle cx="100.0" cy="258.8" r="2.0" fill="#65213f"/><circle cx="104.8" cy="260.3" r="2.0" fill="#65213f"/><circle cx="109.6" cy="261.8" r="2.0" fill="#65213f"/><circle cx="114.4" cy="263.2" r="2.0" fill="#65213f"/><circle cx="119.2" cy="264.7" r="2.0" fill="#65213f"/><circle cx="124.0" cy="266.2" r="2.0" fill="#65213f"/><circle cx="128.8" cy="267.6" r="2.0" fill="#65213f"/><circle cx="133.6" cy="269.1" r="2.0" fill="#65213f"/><circle cx="138.4" cy="270.6" r="2.0" fill="#65213f"/><circle cx="143.2" cy="272.1" r="2.0" fill="#65213f"/><circle cx="148.0" cy="273.5" r="2.0" fill="#65213f"/><circle cx="152.8" cy="275.0" r="2.0" fill="#65213f"/><circle cx="157.6" cy="276.5" r="2.0" fill="#65213f"/><circle cx="162.4" cy="277.9" r="2.0" fill="#65213f"/><circle cx="167.2" cy="279.4" r="2.0" fill="#65213f"/><circle cx="172.0" cy="280.9" r="2.0" fill="#65213f"/><circle cx="176.8" cy="282.3" r="2.0" fill="#65213f"/><circle cx="181.5" cy="283.8" r="2.0" fill="#65213f"/><circle cx="186.3" cy="285.3" r="2.0" fill="#65213f"/><circle cx="191.1" cy="286.7" r="2.0" fill="#65213f"/><circle cx="195.9" cy="288.2" r="2.0" fill="#65213f"/><circle cx="200.7" cy="289.7" r="2.0" fill="#65213f"/><circle cx="205.5" cy="291.2" r="2.0" fill="#65213f"/><circle cx="210.3" cy="292.6" r="2.0" fill="#65213f"/><circle cx="215.1" cy="294.1" r="2.0" fill="#65213f"/><circle cx="219.9" cy="295.6" r="2.0" fill="#65213f"/><circle cx="224.7" cy="297.0" r="2.0" fill="#65213f"/><circle cx="229.5" cy="298.5" r="2.0" fill="#65213f"/><circle cx="234.3" cy="300.0" r="2.0" fill="#65213f"/><circle cx="239.1" cy="301.4" r="2.0" fill="#65213f"/><circle cx="243.9" cy="302.9" r="2.0" fill="#65213f"/><circle cx="248.7" cy="304.4" r="2.0" fill="#65213f"/><circle cx="253.5" cy="305.8" r="2.0" fill="#65213f"/><circle cx="258.3" cy="307.3" r="2.0" fill="#65213f"/><circle cx="263.1" cy="308.8" r="2.0" fill="#65213f"/><circle cx="267.9" cy="310.3" r="2.0" fill="#65213f"/><circle cx="272.7" cy="311.7" r="2.0" fill="#65213f"/><circle cx="277.5" cy="313.2" r="2.0" fill="#65213f"/><circle cx="282.3" cy="314.7" r="2.0" fill="#65213f"/><circle cx="287.1" cy="316.1" r="2.0" fill="#65213f"/><circle cx="291.9" cy="317.6" r="2.0" fill="#65213f"/><circle cx="296.7" cy="319.1" r="2.0" fill="#65213f"/><circle cx="301.5" cy="320.5" r="2.0" fill="#65213f"/><circle cx="306.3" cy="322.0" r="2.0" fill="#65213f"/><circle cx="311.1" cy="323.5" r="2.0" fill="#65213f"/><circle cx="315.9" cy="325.0" r="2.0" fill="#65213f"/><circle cx="320.7" cy="326.4" r="2.0" fill="#65213f"/><circle cx="325.5" cy="327.9" r="2.0" fill="#65213f"/><circle cx="330.3" cy="329.4" r="2.0" fill="#65213f"/><circle cx="335.1" cy="330.8" r="2.0" fill="#65213f"/><circle cx="339.9" cy="332.3" r="2.0" fill="#65213f"/><circle cx="344.7" cy="333.8" r="2.0" fill="#65213f"/><circle cx="349.5" cy="335.2" r="2.0" fill="#65213f"/><circle cx="354.3" cy="336.7" r="2.0" fill="#65213f"/><circle cx="359.1" cy="338.2" r="2.0" fill="#65213f"/><circle cx="363.9" cy="339.6" r="2.0" fill="#65213f"/><circle cx="368.7" cy="341.1" r="2.0" fill="#65213f"/><circle cx="373.5" cy="342.6" r="2.0" fill="#65213f"/><circle cx="378.3" cy="344.1" r="2.0" fill="#65213f"/><circle cx="383.1" cy="345.5" r="2.0" fill="#65213f"/><circle cx="387.9" cy="347.0" r="2.0" fill="#65213f"/><circle cx="392.7" cy="348.5" r="2.0" fill="#65213f"/><circle cx="397.5" cy="349.9" r="2.0" fill="#65213f"/><circle cx="402.3" cy="351.4" r="2.0" fill="#65213f"/><circle cx="407.1" cy="352.9" r="2.0" fill="#65213f"/><circle cx="411.9" cy="354.3" r="2.0" fill="#65213f"/><circle cx="416.7" cy="355.8" r="2.0" fill="#65213f"/><circle cx="421.4" cy="357.3" r="2.0" fill="#65213f"/><circle cx="426.2" cy="358.7" r="2.0" fill="#65213f"/><circle cx="431.0" cy="360.2" r="2.0" fill="#65213f"/><circle cx="435.8" cy="360.1" r="2.0" fill="#65213f"/><circle cx="440.6" cy="361.6" r="2.0" fill="#65213f"/><circle cx="445.4" cy="363.0" r="2.0" fill="#65213f"/><circle cx="450.2" cy="364.5" r="2.0" fill="#65213f"/><circle cx="455.0" cy="366.0" r="2.0" fill="#65213f"/><circle cx="459.8" cy="367.4" r="2.0" fill="#65213f"/><circle cx="464.6" cy="370.5" r="2.0" fill="#65213f"/><circle cx="469.4" cy="372.0" r="2.0" fill="#65213f"/><circle cx="474.2" cy="373.4" r="2.0" fill="#65213f"/><circle cx="479.0" cy="374.9" r="2.0" fill="#65213f"/><circle cx="483.8" cy="376.4" r="2.0" fill="#65213f"/><circle cx="488.6" cy="377.9" r="2.0" fill="#65213f"/><circle cx="493.4" cy="379.3" r="2.0" fill="#65213f"/><circle cx="100.3" cy="260.2" r="2.0" fill="#461852"/><circle cx="105.1" cy="261.7" r="2.0" fill="#461852"/><circle cx="109.9" cy="263.2" r="2.0" fill="#461852"/><circle cx="114.7" cy="264.6" r="2.0" fill="#461852"/><circle cx="119.5" cy="266.1" r="2.0" fill="#461852"/><circle cx="124.3" cy="267.6" r="2.0" fill="#461852"/><circle cx="129.1" cy="269.0" r="2.0" fill="#461852"/><circle cx="133.9" cy="270.5" r="2.0" fill="#461852"/><circle cx="138.7" cy="272.0" r="2.0" fill="#461852"/><circle cx="143.5" cy="273.5" r="2.0" fill="#461852"/><circle cx="148.3" cy="274.9" r="2.0" fill="#461852"/><circle cx="153.1" cy="276.4" r="2.0" fill="#461852"/><circle cx="157.9" cy="277.9" r="2.0" fill="#461852"/><circle cx="162.7" cy="279.3" r="2.0" fill="#461852"/><circle cx="167.5" cy="280.8" r="2.0" fill="#461852"/><circle cx="172.3" cy="282.3" r="2.0" fill="#461852"/><circle cx="177.1" cy="283.7" r="2.0" fill="#461852"/><circle cx="181.8" cy="285.2" r="2.0" fill="#461852"/><circle cx="186.6" cy="286.7" r="2.0" fill="#461852"/><circle cx="191.4" cy="288.1" r="2.0" fill="#461852"/><circle cx="196.2" cy="289.6" r="2.0" fill="#461852"/><circle cx="201.0" cy="291.1" r="2.0" fill="#461852"/><circle cx="205.8" cy="292.6" r="2.0" fill="#461852"/><circle cx="210.6" cy="294.0" r="2.0" fill="#461852"/><circle cx="215.4" cy="295.5" r="2.0" fill="#461852"/><circle cx="220.2" cy="297.0" r="2.0" fill="#461852"/><circle cx="225.0" cy="298.4" r="2.0" fill="#461852"/><circle cx="229.8" cy="299.9" r="2.0" fill="#461852"/><circle cx="234.6" cy="301.4" r="2.0" fill="#461852"/><circle cx="239.4" cy="302.8" r="2.0" fill="#461852"/><circle cx="244.2" cy="304.3" r="2.0" fill="#461852"/><circle cx="249.0" cy="305.8" r="2.0" fill="#461852"/><circle cx="253.8" cy="307.2" r="2.0" fill="#461852"/><circle cx="258.6" cy="308.7" r="2.0" fill="#461852"/><circle cx="263.4" cy="310.2" r="2.0" fill="#461852"/><circle cx="268.2" cy="311.7" r="2.0" fill="#461852"/><circle cx="273.0" cy="313.1" r="2.0" fill="#461852"/><circle cx="277.8" cy="314.6" r="2.0" fill="#461852"/><circle cx="282.6" cy="316.1" r="2.0" fill="#461852"/><circle cx="287.4" cy="317.5" r="2.0" fill="#461852"/><circle cx="292.2" cy="319.0" r="2.0" fill="#461852"/><circle cx="297.0" cy="320.5" r="2.0" fill="#461852"/><circle cx="301.8" cy="321.9" r="2.0" fill="#461852"/><circle cx="306.6" cy="323.4" r="2.0" fill="#461852"/><circle cx="311.4" cy="324.9" r="2.0" fill="#461852"/><circle cx="316.2" cy="326.4" r="2.0" fill="#461852"/><circle cx="321.0" cy="327.8" r="2.0" fill="#461852"/><circle cx="325.8" cy="329.3" r="2.0" fill="#461852"/><circle cx="330.6" cy="330.8" r="2.0" fill="#461852"/><circle cx="335.4" cy="332.2" r="2.0" fill="#461852"/><circle cx="340.2" cy="333.7" r="2.0" fill="#461852"/><circle cx="345.0" cy="335.2" r="2.0" fill="#461852"/><circle cx="349.8" cy="336.6" r="2.0" fill="#461852"/><circle cx="354.6" cy="338.1" r="2.0" fill="#461852"/><circle cx="359.4" cy="339.6" r="2.0" fill="#461852"/><circle cx="364.2" cy="341.0" r="2.0" fill="#461852"/><circle cx="369.0" cy="342.5" r="2.0" fill="#461852"/><circle cx="373.8" cy="344.0" r="2.0" fill="#461852"/><circle cx="378.6" cy="345.5" r="2.0" fill="#461852"/><circle cx="383.4" cy="346.9" r="2.0" fill="#461852"/><circle cx="388.2" cy="348.4" r="2.0" fill="#461852"/><circle cx="393.0" cy="349.9" r="2.0" fill="#461852"/><circle cx="397.8" cy="351.3" r="2.0" fill="#461852"/><circle cx="402.6" cy="352.8" r="2.0" fill="#461852"/><circle cx="407.4" cy="354.3" r="2.0" fill="#461852"/><circle cx="412.2" cy="355.7" r="2.0" fill="#461852"/><circle cx="417.0" cy="357.2" r="2.0" fill="#461852"/><circle cx="421.7" cy="358.7" r="2.0" fill="#461852"/><circle cx="426.5" cy="360.1" r="2.0" fill="#461852"/><circle cx="431.3" cy="361.6" r="2.0" fill="#461852"/><circle cx="436.1" cy="364.3" r="2.0" fill="#461852"/><circle cx="440.9" cy="365.8" r="2.0" fill="#461852"/><circle cx="445.7" cy="367.2" r="2.0" fill="#461852"/><circle cx="450.5" cy="368.7" r="2.0" fill="#461852"/><circle cx="455.3" cy="370.2" r="2.0" fill="#461852"/><circle cx="460.1" cy="371.6" r="2.0" fill="#461852"/><circle cx="464.9" cy="371.1" r="2.0" fill="#461852"/><circle cx="469.7" cy="372.6" r="2.0" fill="#461852"/><circle cx="474.5" cy="374.0" r="2.0" fill="#461852"/><circle cx="479.3" cy="375.5" r="2.0" fill="#461852"/><circle cx="484.1" cy="377.0" r="2.0" fill="#461852"/><circle cx="488.9" cy="378.5" r="2.0" fill="#461852"/><circle cx="493.7" cy="379.9" r="2.0" fill="#461852"/><circle cx="147.7" cy="272.9" r="2.0" fill="#702360"/><circle cx="152.5" cy="274.4" r="2.0" fill="#702360"/><circle cx="157.3" cy="275.9" r="2.0" fill="#702360"/><circle cx="162.1" cy="277.3" r="2.0" fill="#702360"/><circle cx="166.9" cy="278.8" r="2.0" fill="#702360"/><circle cx="171.7" cy="280.3" r="2.0" fill="#702360"/><circle cx="176.4" cy="281.7" r="2.0" fill="#702360"/><circle cx="181.2" cy="283.2" r="2.0" fill="#702360"/><circle cx="186.0" cy="284.7" r="2.0" fill="#702360"/><circle cx="190.8" cy="286.1" r="2.0" fill="#702360"/><circle cx="195.6" cy="287.6" r="2.0" fill="#702360"/><circle cx="200.4" cy="289.1" r="2.0" fill="#702360"/><circle cx="205.2" cy="290.6" r="2.0" fill="#702360"/><circle cx="210.0" cy="292.0" r="2.0" fill="#702360"/><circle cx="214.8" cy="293.5" r="2.0" fill="#702360"/><circle cx="219.6" cy="295.0" r="2.0" fill="#702360"/><circle cx="224.4" cy="296.4" r="2.0" fill="#702360"/><circle cx="229.2" cy="297.9" r="2.0" fill="#702360"/><circle cx="234.0" cy="299.4" r="2.0" fill="#702360"/><circle cx="238.8" cy="300.8" r="2.0" fill="#702360"/><circle cx="243.6" cy="302.3" r="2.0" fill="#702360"/><circle cx="248.4" cy="303.8" r="2.0" fill="#702360"/><circle cx="253.2" cy="305.2" r="2.0" fill="#702360"/><circle cx="258.0" cy="306.7" r="2.0" fill="#702360"/><circle cx="262.8" cy="308.2" r="2.0" fill="#702360"/><circle cx="267.6" cy="309.7" r="2.0" fill="#702360"/><circle cx="272.4" cy="311.1" r="2.0" fill="#702360"/><circle cx="277.2" cy="312.6" r="2.0" fill="#702360"/><circle cx="282.0" cy="314.1" r="2.0" fill="#702360"/><circle cx="286.8" cy="315.5" r="2.0" fill="#702360"/><circle cx="291.6" cy="317.0" r="2.0" fill="#702360"/><circle cx="296.4" cy="318.5" r="2.0" fill="#702360"/><circle cx="301.2" cy="319.9" r="2.0" fill="#702360"/><circle cx="306.0" cy="321.4" r="2.0" fill="#702360"/><circle cx="310.8" cy="322.9" r="2.0" fill="#702360"/><circle cx="315.6" cy="324.4" r="2.0" fill="#702360"/><circle cx="320.4" cy="325.8" r="2.0" fill="#702360"/><circle cx="325.2" cy="327.3" r="2.0" fill="#702360"/><circle cx="330.0" cy="328.8" r="2.0" fill="#702360"/><circle cx="334.8" cy="330.2" r="2.0" fill="#702360"/><circle cx="339.6" cy="331.7" r="2.0" fill="#702360"/><circle cx="344.4" cy="333.2" r="2.0" fill="#702360"/><circle cx="349.2" cy="334.6" r="2.0" fill="#702360"/><circle cx="354.0" cy="336.1" r="2.0" fill="#702360"/><circle cx="358.8" cy="337.6" r="2.0" fill="#702360"/><circle cx="363.6" cy="339.0" r="2.0" fill="#702360"/><circle cx="368.4" cy="340.5" r="2.0" fill="#702360"/><circle cx="373.2" cy="342.0" r="2.0" fill="#702360"/><circle cx="378.0" cy="343.5" r="2.0" fill="#702360"/><circle cx="382.8" cy="344.9" r="2.0" fill="#702360"/><circle cx="387.6" cy="346.4" r="2.0" fill="#702360"/><circle cx="392.4" cy="347.9" r="2.0" fill="#702360"/><circle cx="397.2" cy="349.3" r="2.0" fill="#702360"/><circle cx="402.0" cy="350.8" r="2.0" fill="#702360"/><circle cx="406.8" cy="352.3" r="2.0" fill="#702360"/><circle cx="411.6" cy="353.7" r="2.0" fill="#702360"/><circle cx="416.4" cy="355.2" r="2.0" fill="#702360"/><circle cx="421.1" cy="356.7" r="2.0" fill="#702360"/><circle cx="425.9" cy="358.1" r="2.0" fill="#702360"/><circle cx="430.7" cy="359.6" r="2.0" fill="#702360"/><circle cx="435.5" cy="364.7" r="2.0" fill="#702360"/><circle cx="440.3" cy="366.2" r="2.0" fill="#702360"/><circle cx="445.1" cy="367.6" r="2.0" fill="#702360"/><circle cx="449.9" cy="369.1" r="2.0" fill="#702360"/><circle cx="454.7" cy="370.6" r="2.0" fill="#702360"/><circle cx="459.5" cy="372.0" r="2.0" fill="#702360"/><circle cx="123.3" cy="160.8" r="1.85" fill="#b8c040"/><circle cx="176.4" cy="160.4" r="1.85" fill="#8a9a70"/><circle cx="200.0" cy="159.8" r="1.85" fill="#4a3a70"/><circle cx="204.8" cy="158.6" r="1.85" fill="#4a3a70"/><circle cx="219.5" cy="160.4" r="1.85" fill="#4a90b0"/><circle cx="243.4" cy="160.5" r="1.85" fill="#c870a8"/><circle cx="277.0" cy="159.0" r="1.85" fill="#c03070"/><circle cx="282.0" cy="156.0" r="1.85" fill="#c03070"/><circle cx="292.0" cy="160.6" r="1.85" fill="#c03070"/><circle cx="297.0" cy="158.6" r="1.85" fill="#c03070"/><circle cx="321.0" cy="160.6" r="1.85" fill="#d0a070"/><circle cx="325.0" cy="159.0" r="1.85" fill="#c8a070"/><circle cx="330.0" cy="156.6" r="1.85" fill="#a08060"/><circle cx="339.0" cy="156.0" r="1.85" fill="#b09070"/><circle cx="353.9" cy="156.8" r="1.85" fill="#c0c050"/><circle cx="358.6" cy="156.0" r="1.85" fill="#303020"/><circle cx="382.9" cy="159.9" r="1.85" fill="#d03090"/><circle cx="387.1" cy="158.0" r="1.85" fill="#d03090"/><circle cx="402.2" cy="160.7" r="1.85" fill="#2a4a8a"/><circle cx="473.9" cy="158.7" r="1.85" fill="#5a2090"/><circle cx="478.7" cy="157.4" r="1.85" fill="#5a2090"/><circle cx="483.9" cy="155.8" r="1.85" fill="#5a2090"/><circle cx="488.5" cy="155.8" r="1.85" fill="#5a2090"/><circle cx="493.6" cy="150.1" r="1.85" fill="#5a2090"/><circle cx="512.9" cy="160.7" r="1.85" fill="#e0b0a0"/><circle cx="522.1" cy="160.7" r="1.85" fill="#c0c040"/><circle cx="531.4" cy="160.3" r="1.85" fill="#4070a0"/><circle cx="56.8" cy="258.3" r="1.85" fill="#5a2040"/><circle cx="123.4" cy="274.1" r="1.85" fill="#9aa040"/><circle cx="157.0" cy="258.7" r="1.85" fill="#c890b8"/><circle cx="162.0" cy="260.6" r="1.85" fill="#b080a8"/><circle cx="166.6" cy="258.3" r="1.85" fill="#90a080"/><circle cx="176.3" cy="259.1" r="1.85" fill="#8a8a50"/><circle cx="171.6" cy="273.7" r="1.85" fill="#40d040"/><circle cx="200.6" cy="259.6" r="1.85" fill="#302860"/><circle cx="205.2" cy="261.2" r="1.85" fill="#403070"/><circle cx="219.3" cy="244.6" r="1.85" fill="#4080c0"/><circle cx="243.1" cy="243.6" r="1.85" fill="#b080a8"/><circle cx="277.1" cy="246.1" r="1.85" fill="#b02080"/><circle cx="282.1" cy="247.5" r="1.85" fill="#b02080"/><circle cx="277.1" cy="259.6" r="1.85" fill="#a08050"/><circle cx="291.7" cy="273.7" r="1.85" fill="#c02050"/><circle cx="296.4" cy="277.0" r="1.85" fill="#c02050"/><circle cx="320.1" cy="273.7" r="1.85" fill="#c0a070"/><circle cx="324.9" cy="276.4" r="1.85" fill="#b09060"/><circle cx="329.8" cy="278.4" r="1.85" fill="#c0a060"/><circle cx="339.3" cy="273.7" r="1.85" fill="#909040"/><circle cx="339.3" cy="282.2" r="1.85" fill="#909040"/><circle cx="358.6" cy="262.9" r="1.85" fill="#302820"/><circle cx="353.9" cy="275.1" r="1.85" fill="#b0c040"/><circle cx="382.3" cy="273.7" r="1.85" fill="#e03090"/><circle cx="387.5" cy="275.7" r="1.85" fill="#e03090"/><circle cx="402.2" cy="259.1" r="1.85" fill="#204080"/><circle cx="473.9" cy="245.4" r="1.85" fill="#5a1a8a"/><circle cx="479.1" cy="247.5" r="1.85" fill="#5a1a8a"/><circle cx="483.9" cy="248.8" r="1.85" fill="#5a1a8a"/><circle cx="488.5" cy="250.2" r="1.85" fill="#5a1a8a"/><circle cx="493.8" cy="251.3" r="1.85" fill="#5a1a8a"/><circle cx="522.0" cy="259.2" r="1.85" fill="#c0c040"/><circle cx="512.6" cy="273.9" r="1.85" fill="#d0a090"/><circle cx="532.0" cy="273.9" r="1.85" fill="#4080b0"/><rect x="56.8" y="11.5" width="474.7" height="148.8" fill="none" stroke="#262626" stroke-width="1.1"/><path d="M100.0 160.3V155.5M100.0 11.5V16.3M148.0 160.3V155.5M148.0 11.5V16.3M195.9 160.3V155.5M195.9 11.5V16.3M243.9 160.3V155.5M243.9 11.5V16.3M291.9 160.3V155.5M291.9 11.5V16.3M339.9 160.3V155.5M339.9 11.5V16.3M387.9 160.3V155.5M387.9 11.5V16.3M435.8 160.3V155.5M435.8 11.5V16.3M483.8 160.3V155.5M483.8 11.5V16.3M56.8 85.9H61.599999999999994M531.5 85.9H526.7" stroke="#262626" stroke-width="1" fill="none"/><text x="100.0" y="181.6" text-anchor="middle" class="tk">10</text><text x="148.0" y="181.6" text-anchor="middle" class="tk">20</text><text x="195.9" y="181.6" text-anchor="middle" class="tk">30</text><text x="243.9" y="181.6" text-anchor="middle" class="tk">40</text><text x="291.9" y="181.6" text-anchor="middle" class="tk">50</text><text x="339.9" y="181.6" text-anchor="middle" class="tk">60</text><text x="387.9" y="181.6" text-anchor="middle" class="tk">70</text><text x="435.8" y="181.6" text-anchor="middle" class="tk">80</text><text x="483.8" y="181.6" text-anchor="middle" class="tk">90</text><text x="531.8" y="181.6" text-anchor="middle" class="tk">100</text><text x="49.8" y="165.5" text-anchor="end" class="tk">0</text><text x="49.8" y="91.1" text-anchor="end" class="tk">50</text><text x="49.8" y="16.7" text-anchor="end" class="tk">100</text><text x="294.1" y="202.3" text-anchor="middle" class="lb">Time(s)</text><text transform="translate(17.3 86.4) rotate(-90)" text-anchor="middle" class="yl">x-coordinate (m)</text><rect x="56.8" y="229.5" width="474.7" height="149.0" fill="none" stroke="#262626" stroke-width="1.1"/><path d="M100.0 378.5V373.7M100.0 229.5V234.3M148.0 378.5V373.7M148.0 229.5V234.3M195.9 378.5V373.7M195.9 229.5V234.3M243.9 378.5V373.7M243.9 229.5V234.3M291.9 378.5V373.7M291.9 229.5V234.3M339.9 378.5V373.7M339.9 229.5V234.3M387.9 378.5V373.7M387.9 229.5V234.3M435.8 378.5V373.7M435.8 229.5V234.3M483.8 378.5V373.7M483.8 229.5V234.3M56.8 304.0H61.599999999999994M531.5 304.0H526.7" stroke="#262626" stroke-width="1" fill="none"/><text x="100.0" y="399.8" text-anchor="middle" class="tk">10</text><text x="148.0" y="399.8" text-anchor="middle" class="tk">20</text><text x="195.9" y="399.8" text-anchor="middle" class="tk">30</text><text x="243.9" y="399.8" text-anchor="middle" class="tk">40</text><text x="291.9" y="399.8" text-anchor="middle" class="tk">50</text><text x="339.9" y="399.8" text-anchor="middle" class="tk">60</text><text x="387.9" y="399.8" text-anchor="middle" class="tk">70</text><text x="435.8" y="399.8" text-anchor="middle" class="tk">80</text><text x="483.8" y="399.8" text-anchor="middle" class="tk">90</text><text x="531.8" y="399.8" text-anchor="middle" class="tk">100</text><text x="49.8" y="383.7" text-anchor="end" class="tk">0</text><text x="49.8" y="309.2" text-anchor="end" class="tk">50</text><text x="49.8" y="234.7" text-anchor="end" class="tk">100</text><text x="294.1" y="420.5" text-anchor="middle" class="lb">Time(s)</text><text transform="translate(17.3 304.5) rotate(-90)" text-anchor="middle" class="yl">y-coordinate (m)</text><rect x="70.5" y="19.5" width="141.5" height="56.8" fill="#fff" stroke="#262626" stroke-width="1"/><circle cx="95.5" cy="30.4" r="1.8" fill="#6e2048"/><line x1="73" y1="47.8" x2="116" y2="47.8" stroke="#111" stroke-width="1.7"/><path d="M92.8 62.6L98.2 68.0M92.8 68.0L98.2 62.6" stroke="#b0b0b0" stroke-width="0.95" fill="none"/><text x="120.5" y="34.6" class="lg">Estimates</text><text x="120.5" y="52.3" class="lg">True tracks</text><text x="120.5" y="70" class="lg">Measurements</text>
</svg></body></html>
